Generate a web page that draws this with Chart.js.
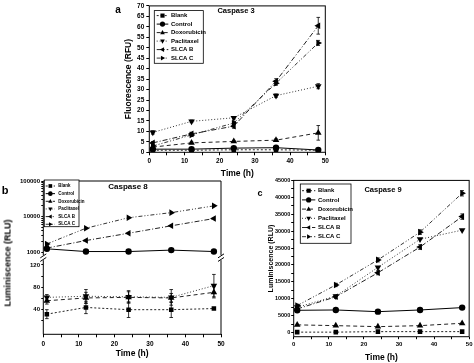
<!DOCTYPE html>
<html>
<head>
<meta charset="utf-8">
<script src="https://cdn.jsdelivr.net/npm/chart.js"></script>
<style>
body { margin: 0; background: #fff; width: 474px; height: 363px; position: relative; overflow: hidden;
       font-family: 'Liberation Sans', Arial, sans-serif; font-weight: bold; color: #000; }
canvas { position: absolute; }
.lbl { position: absolute; white-space: nowrap; transform: translate(-50%, -50%); line-height: 1; }
</style>
</head>
<body>
<canvas id="chartA" width="240" height="179" style="left:100px;top:0px"></canvas>
<canvas id="chartB" width="237" height="183" style="left:0px;top:176px"></canvas>
<canvas id="chartC" width="212" height="187" style="left:262px;top:176px"></canvas>

<div class="lbl" style="left:118px;top:10px;font-size:10px">a</div>
<div class="lbl" style="left:5px;top:190px;font-size:11px">b</div>
<div class="lbl" style="left:260px;top:193px;font-size:9px">c</div>
<div class="lbl" style="left:236px;top:11px;font-size:7.5px">Caspase 3</div>
<div class="lbl" style="left:128px;top:187px;font-size:8px">Caspase 8</div>
<div class="lbl" style="left:383px;top:190px;font-size:7.5px">Caspase 9</div>
<div class="lbl" style="left:8px;top:263px;font-size:9px;transform:translate(-50%,-50%) rotate(-90deg)">Luminiscence (RLU)</div>

<script>
// time points (h), same for all three panels
const timePoints = [1, 12, 24, 36, 48];
const seriesLabels = ['Blank', 'Control', 'Doxorubicin', 'Paclitaxel', 'SLCA B', 'SLCA C'];

// a - Caspase 3, fluorescence (RFU)
const casp3Blank   = [1.0, 1.0, 1.2, 1.2, 1.0];
const casp3Control = [1.5, 1.5, 2.0, 2.2, 1.1];
const casp3Doxo    = [2.5, 4.5, 5.2, 5.8, 9.3];
const casp3Pacli   = [9.5, 14.8, 16.5, 27.1, 31.6];
const casp3SlcaB   = [4.5, 8.8, 12.5, 34.0, 60.5];
const casp3SlcaC   = [3.0, 8.3, 14.0, 33.0, 52.3];
const casp3DoxoErr  = [0.5, 0.4, 0.5, 0.6, 3.5];
const casp3PacliErr = [0.8, 0.6, 0.6, 0.8, 1.2];
const casp3SlcaBErr = [0.6, 0.8, 1.0, 1.2, 4.0];
const casp3SlcaCErr = [0.5, 0.6, 0.8, 1.0, 1.2];

// b - Caspase 8, luminescence (RLU), broken axis
const casp8Blank   = [32, 44, 40, 40, 42];
const casp8Control = [1240, 1040, 1040, 1140, 1040];
const casp8Doxo    = [56, 61, 62, 61, 71];
const casp8Pacli   = [62, 64, 63, 62, 83];
const casp8SlcaB   = [1300, 2120, 3400, 5500, 8800];
const casp8SlcaC   = [1700, 4700, 9300, 12900, 20000];
const casp8BlankErr = [8, 11, 14, 14, 0];
const casp8DoxoErr  = [6, 10, 10, 8, 10];
const casp8PacliErr = [5, 12, 11, 14, 20];
const casp8UpperTicks = [1000, 2000, 3000, 4000, 5000, 6000, 7000, 8000, 9000, 10000,
                         20000, 30000, 40000, 50000, 60000, 70000, 80000, 90000, 100000];
const casp8UpperLabels = [1000, 10000, 100000];
const casp8LowerTicks = [20, 40, 60, 80, 100, 120];
const casp8LowerLabels = [40, 80, 120];

// c - Caspase 9, luminescence (RLU)
const casp9Blank   = [150, 150, 300, 300, 300];
const casp9Control = [6600, 6700, 6200, 6700, 7400];
const casp9Doxo    = [2300, 2070, 1770, 2070, 2770];
const casp9Pacli   = [7500, 10800, 19300, 27600, 30300];
const casp9SlcaB   = [7000, 10600, 17700, 25300, 34300];
const casp9SlcaC   = [8000, 14100, 21500, 29700, 41200];
const casp9SlcaBErr = [400, 500, 600, 700, 800];
const casp9SlcaCErr = [400, 500, 600, 700, 800];

// styles per series
const lineDashes = [[2, 2], [], [4, 3], [1, 2], [5, 2, 1, 2], [4, 2, 1, 2, 1, 2]];
const lineColors = ['#222', '#000', '#222', '#333', '#222', '#333'];
const markerStyles = ['rect', 'circle', 'triangle', 'triangle', 'triangle', 'triangle'];
const markerRotations = [0, 0, 0, 180, 270, 90];

Chart.defaults.font.family = "'Liberation Sans', Arial, sans-serif";
Chart.defaults.font.weight = 'bold';
Chart.defaults.color = '#000';

function buildSets(values, errors, axes, radius) {
    return values.map((vals, i) => ({
        label: seriesLabels[i],
        data: timePoints.map((t, k) => ({ x: t, y: vals[k] })),
        errors: errors[i],
        yAxisID: axes ? axes[i] : 'y',
        borderColor: lineColors[i],
        borderWidth: 1,
        borderDash: lineDashes[i],
        pointStyle: markerStyles[i],
        rotation: markerRotations[i],
        pointRadius: markerStyles[i] === 'triangle' ? radius + 0.6 : radius,
        pointBackgroundColor: '#000',
        pointBorderColor: '#000',
        pointBorderWidth: 0,
        tension: 0
    }));
}

// draw a marker for the legend
function drawMarker(ctx, style, rot, x, y, r) {
    ctx.save();
    ctx.translate(x, y);
    ctx.rotate(rot * Math.PI / 180);
    ctx.beginPath();
    if (style === 'rect') {
        ctx.rect(-r * 0.8, -r * 0.8, r * 1.6, r * 1.6);
    } else if (style === 'circle') {
        ctx.arc(0, 0, r, 0, Math.PI * 2);
    } else {
        ctx.moveTo(0, -r);
        ctx.lineTo(r * 0.9, r * 0.6);
        ctx.lineTo(-r * 0.9, r * 0.6);
        ctx.closePath();
    }
    ctx.fillStyle = '#000';
    ctx.fill();
    ctx.restore();
}

// box frame round the plot (with axis break for panel b)
const frameBox = {
    id: 'frameBox',
    beforeDatasetsDraw(chart, args, o) {
        const a = chart.chartArea, ctx = chart.ctx;
        ctx.save();
        ctx.strokeStyle = '#000';
        ctx.lineWidth = 1;
        if (o.breakScale) {
            const yb = chart.scales[o.breakScale].bottom;
            ctx.beginPath();
            ctx.moveTo(a.left, a.top); ctx.lineTo(a.right, a.top);
            ctx.moveTo(a.left, a.bottom); ctx.lineTo(a.right, a.bottom);
            [a.left, a.right].forEach(x => {
                ctx.moveTo(x, a.top); ctx.lineTo(x, yb - 2.5);
                ctx.moveTo(x, yb + 2.5); ctx.lineTo(x, a.bottom);
            });
            ctx.stroke();
            ctx.beginPath();
            [a.left, a.right].forEach(x => {
                [-1.8, 1.8].forEach(d => {
                    ctx.moveTo(x - 3, yb + d + 2);
                    ctx.lineTo(x + 3, yb + d - 2);
                });
            });
            ctx.stroke();
        } else {
            ctx.strokeRect(a.left, a.top, a.right - a.left, a.bottom - a.top);
        }
        ctx.restore();
    }
};

// error bars from the errors arrays
const errorBars = {
    id: 'errorBars',
    afterDatasetsDraw(chart) {
        const ctx = chart.ctx;
        chart.data.datasets.forEach(ds => {
            if (!ds.errors) return;
            const xs = chart.scales.x, ys = chart.scales[ds.yAxisID];
            ctx.save();
            ctx.strokeStyle = '#000';
            ctx.lineWidth = 0.8;
            ds.data.forEach((p, k) => {
                const e = ds.errors[k];
                if (!e) return;
                const x = xs.getPixelForValue(p.x);
                const yTop = ys.getPixelForValue(p.y + e);
                const yBot = ys.getPixelForValue(Math.max(p.y - e, ys.min));
                ctx.beginPath();
                ctx.moveTo(x, yTop); ctx.lineTo(x, yBot);
                ctx.moveTo(x - 1.8, yTop); ctx.lineTo(x + 1.8, yTop);
                ctx.moveTo(x - 1.8, yBot); ctx.lineTo(x + 1.8, yBot);
                ctx.stroke();
            });
            ctx.restore();
        });
    }
};

// legend box inside the plot area
const boxLegend = {
    id: 'boxLegend',
    afterDraw(chart, args, o) {
        if (!o.box) return;
        const ctx = chart.ctx, a = chart.chartArea;
        const x0 = a.left + o.box[0], y0 = a.top + o.box[1];
        ctx.save();
        ctx.fillStyle = '#fff';
        ctx.fillRect(x0, y0, o.box[2], o.box[3]);
        ctx.strokeStyle = '#000';
        ctx.lineWidth = 0.8;
        ctx.strokeRect(x0, y0, o.box[2], o.box[3]);
        chart.data.datasets.forEach((ds, i) => {
            const y = y0 + o.rowTop + i * o.rowH;
            ctx.setLineDash(ds.borderDash);
            ctx.strokeStyle = ds.borderColor;
            ctx.lineWidth = 1;
            ctx.beginPath();
            ctx.moveTo(x0 + o.line[0], y);
            ctx.lineTo(x0 + o.line[1], y);
            ctx.stroke();
            ctx.setLineDash([]);
            drawMarker(ctx, ds.pointStyle, ds.rotation, x0 + (o.line[0] + o.line[1]) / 2, y, o.r);
            ctx.fillStyle = '#000';
            ctx.font = 'bold ' + o.size + "px 'Liberation Sans', Arial, sans-serif";
            ctx.textBaseline = 'middle';
            ctx.textAlign = 'left';
            ctx.fillText(ds.label, x0 + o.text, y);
        });
        ctx.restore();
    }
};

Chart.register(frameBox, errorBars, boxLegend);

function timeAxis(fontSize, tickLen, pad, height) {
    return {
        type: 'linear', min: 0, max: 50,
        ticks: { stepSize: 5, font: { size: fontSize }, padding: pad, autoSkip: false, maxRotation: 0,
                 callback: v => (v % 10 === 0 ? v : '') },
        grid: { drawOnChartArea: false, drawTicks: true, tickLength: tickLen, color: '#000' },
        border: { display: false },
        title: { display: true, text: 'Time (h)', font: { size: 8.5 }, padding: 0 },
        afterFit: s => { s.height = height; }
    };
}

const noPlugins = { legend: { display: false }, tooltip: { enabled: false } };

// a - Caspase 3
new Chart(document.getElementById('chartA'), {
    type: 'line',
    data: {
        datasets: buildSets(
            [casp3Blank, casp3Control, casp3Doxo, casp3Pacli, casp3SlcaB, casp3SlcaC],
            [null, null, casp3DoxoErr, casp3PacliErr, casp3SlcaBErr, casp3SlcaCErr],
            null, 3.2)
    },
    options: {
        responsive: false, animation: false,
        layout: { padding: { left: 23.2, top: 4.3, right: 14.7, bottom: 0 } },
        plugins: Object.assign({}, noPlugins, {
            frameBox: {},
            boxLegend: { box: [5, 4.7, 49, 52.7], rowTop: 5, rowH: 8.5, line: [2.4, 14], text: 16.7, size: 6, r: 2.6 }
        }),
        scales: {
            x: timeAxis(6.5, 3, 2, 26.7),
            y: {
                type: 'linear', min: 0, max: 70,
                ticks: { stepSize: 5, font: { size: 6.5 }, padding: 2, autoSkip: false },
                grid: { drawOnChartArea: false, drawTicks: true, tickLength: 3, color: '#000' },
                border: { display: false },
                title: { display: true, text: 'Fluorescence (RFU)', font: { size: 8.5 }, padding: 0 },
                afterFit: s => { s.width = 26.1; }
            }
        }
    }
});

// b - Caspase 8 (log upper part, linear lower part)
new Chart(document.getElementById('chartB'), {
    type: 'line',
    data: {
        datasets: buildSets(
            [casp8Blank, casp8Control, casp8Doxo, casp8Pacli, casp8SlcaB, casp8SlcaC],
            [casp8BlankErr, null, casp8DoxoErr, casp8PacliErr, null, null],
            ['yLow', 'yUp', 'yLow', 'yLow', 'yUp', 'yUp'], 3.2)
    },
    options: {
        responsive: false, animation: false,
        layout: { padding: { left: 3.2, top: 5, right: 16, bottom: 0 } },
        plugins: Object.assign({}, noPlugins, {
            frameBox: { breakScale: 'yUp' },
            boxLegend: { box: [1, -1, 34.7, 46.7], rowTop: 6, rowH: 7.65, line: [1.4, 10.7], text: 14, size: 4.5, r: 2.3 }
        }),
        scales: {
            x: timeAxis(6.5, 3, 3, 24.7),
            yUp: {
                type: 'logarithmic', position: 'left', stack: 'caspase8', stackWeight: 1, weight: 1,
                min: 700, max: 100000,
                afterBuildTicks: s => { s.ticks = casp8UpperTicks.map(v => ({ value: v })); },
                ticks: { font: { size: 6 }, padding: 1.3, autoSkip: false,
                         callback: v => (casp8UpperLabels.includes(v) ? String(v) : '') },
                grid: { drawOnChartArea: false, drawTicks: true, tickLength: 2, color: '#000' },
                border: { display: false },
                afterFit: s => { s.width = 40.1; }
            },
            yLow: {
                type: 'linear', position: 'left', stack: 'caspase8', stackWeight: 1, weight: 0,
                min: -4, max: 133,
                afterBuildTicks: s => { s.ticks = casp8LowerTicks.map(v => ({ value: v })); },
                ticks: { font: { size: 6 }, padding: 1.3, autoSkip: false,
                         callback: v => (casp8LowerLabels.includes(v) ? String(v) : '') },
                grid: { drawOnChartArea: false, drawTicks: true, tickLength: 2, color: '#000' },
                border: { display: false },
                afterFit: s => { s.width = 40.1; }
            }
        }
    }
});

// c - Caspase 9
const casp9Ticks = [];
for (let v = 0; v <= 45000; v += 2500) casp9Ticks.push(v);
new Chart(document.getElementById('chartC'), {
    type: 'line',
    data: {
        datasets: buildSets(
            [casp9Blank, casp9Control, casp9Doxo, casp9Pacli, casp9SlcaB, casp9SlcaC],
            [null, null, null, null, casp9SlcaBErr, casp9SlcaCErr],
            null, 3.2)
    },
    options: {
        responsive: false, animation: false,
        layout: { padding: { left: 4.8, top: 4.4, right: 3.7, bottom: 0 } },
        plugins: Object.assign({}, noPlugins, {
            frameBox: {},
            boxLegend: { box: [6.6, 3.6, 50.7, 59.3], rowTop: 6.7, rowH: 9.2, line: [1.7, 15], text: 17.7, size: 6, r: 2.6 }
        }),
        scales: {
            x: timeAxis(6, 2.5, 1.5, 26.3),
            y: {
                type: 'linear', min: -1200, max: 45000,
                afterBuildTicks: s => { s.ticks = casp9Ticks.map(v => ({ value: v })); },
                ticks: { font: { size: 5.5 }, padding: 1, autoSkip: false,
                         callback: v => (v % 5000 === 0 ? String(v) : '') },
                grid: { drawOnChartArea: false, drawTicks: true, tickLength: 2.5, color: '#000' },
                border: { display: false },
                title: { display: true, text: 'Luminiscence (RLU)', font: { size: 7 }, padding: 0 },
                afterFit: s => { s.width = 26.9; }
            }
        }
    }
});
</script>
</body>
</html>
